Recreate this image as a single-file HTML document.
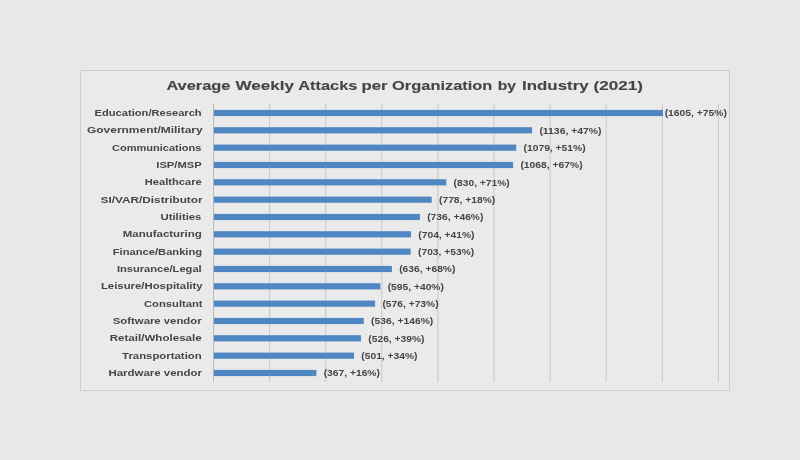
<!DOCTYPE html><html><head><meta charset="utf-8"><title>Average Weekly Attacks per Organization by Industry (2021)</title><style>html,body{margin:0;padding:0;background:#e8e8e8}svg{display:block}text{font-family:"Liberation Sans",sans-serif;font-weight:bold;fill:#454545}</style></head><body>
<svg width="800" height="460" viewBox="0 0 800 460">
<defs><filter id="soft" x="-2%" y="-2%" width="104%" height="104%"><feGaussianBlur stdDeviation="0.3"/></filter></defs>
<rect x="0" y="0" width="800" height="460" fill="#e8e8e8"/>
<rect x="80.5" y="70.5" width="649" height="320" fill="#eaeaea" stroke="#cdcdcd" stroke-width="1"/>
<g filter="url(#soft)">
<line x1="213.5" y1="104" x2="213.5" y2="382" stroke="#bcbcbc" stroke-width="1"/>
<line x1="269.6" y1="104" x2="269.6" y2="382" stroke="#c8c8c8" stroke-width="1"/>
<line x1="325.7" y1="104" x2="325.7" y2="382" stroke="#c8c8c8" stroke-width="1"/>
<line x1="381.8" y1="104" x2="381.8" y2="382" stroke="#c8c8c8" stroke-width="1"/>
<line x1="437.9" y1="104" x2="437.9" y2="382" stroke="#c8c8c8" stroke-width="1"/>
<line x1="494.0" y1="104" x2="494.0" y2="382" stroke="#c8c8c8" stroke-width="1"/>
<line x1="550.1" y1="104" x2="550.1" y2="382" stroke="#c8c8c8" stroke-width="1"/>
<line x1="606.2" y1="104" x2="606.2" y2="382" stroke="#c8c8c8" stroke-width="1"/>
<line x1="662.3" y1="104" x2="662.3" y2="382" stroke="#c8c8c8" stroke-width="1"/>
<line x1="718.4" y1="104" x2="718.4" y2="382" stroke="#c8c8c8" stroke-width="1"/>
<text x="166.4" y="89.8" font-size="12.8" stroke="#454545" stroke-width="0.12" textLength="64.1" lengthAdjust="spacingAndGlyphs">Average</text>
<text x="235.6" y="89.8" font-size="12.8" stroke="#454545" stroke-width="0.12" textLength="58.4" lengthAdjust="spacingAndGlyphs">Weekly</text>
<text x="298.3" y="89.8" font-size="12.8" stroke="#454545" stroke-width="0.12" textLength="59.1" lengthAdjust="spacingAndGlyphs">Attacks</text>
<text x="361.4" y="89.8" font-size="12.8" stroke="#454545" stroke-width="0.12" textLength="26.2" lengthAdjust="spacingAndGlyphs">per</text>
<text x="392.1" y="89.8" font-size="12.8" stroke="#454545" stroke-width="0.12" textLength="100.3" lengthAdjust="spacingAndGlyphs">Organization</text>
<text x="497.7" y="89.8" font-size="12.8" stroke="#454545" stroke-width="0.12" textLength="18.4" lengthAdjust="spacingAndGlyphs">by</text>
<text x="522.1" y="89.8" font-size="12.8" stroke="#454545" stroke-width="0.12" textLength="66.5" lengthAdjust="spacingAndGlyphs">Industry</text>
<text x="593.6" y="89.8" font-size="12.8" stroke="#454545" stroke-width="0.12" textLength="49.3" lengthAdjust="spacingAndGlyphs">(2021)</text>
<rect x="213.9" y="109.90" width="449.1" height="6.2" fill="#4f87c2"/>
<text x="94.5" y="115.90" font-size="8.5" textLength="107.2" lengthAdjust="spacingAndGlyphs">Education/Research</text>
<text x="664.7" y="116.30" font-size="8.5" textLength="62.2" lengthAdjust="spacingAndGlyphs">(1605, +75%)</text>
<rect x="213.9" y="127.23" width="318.2" height="6.2" fill="#4f87c2"/>
<text x="87.0" y="133.23" font-size="8.5" textLength="115.6" lengthAdjust="spacingAndGlyphs">Government/Military</text>
<text x="539.4" y="133.63" font-size="8.5" textLength="62.2" lengthAdjust="spacingAndGlyphs">(1136, +47%)</text>
<rect x="213.9" y="144.57" width="302.3" height="6.2" fill="#4f87c2"/>
<text x="112.0" y="150.57" font-size="8.5" textLength="89.4" lengthAdjust="spacingAndGlyphs">Communications</text>
<text x="523.5" y="150.97" font-size="8.5" textLength="62.2" lengthAdjust="spacingAndGlyphs">(1079, +51%)</text>
<rect x="213.9" y="161.90" width="299.2" height="6.2" fill="#4f87c2"/>
<text x="156.3" y="167.90" font-size="8.5" textLength="45.4" lengthAdjust="spacingAndGlyphs">ISP/MSP</text>
<text x="520.4" y="168.30" font-size="8.5" textLength="62.2" lengthAdjust="spacingAndGlyphs">(1068, +67%)</text>
<rect x="213.9" y="179.23" width="232.4" height="6.2" fill="#4f87c2"/>
<text x="144.7" y="185.23" font-size="8.5" textLength="57.0" lengthAdjust="spacingAndGlyphs">Healthcare</text>
<text x="453.6" y="185.63" font-size="8.5" textLength="56.2" lengthAdjust="spacingAndGlyphs">(830, +71%)</text>
<rect x="213.9" y="196.57" width="217.8" height="6.2" fill="#4f87c2"/>
<text x="100.6" y="202.57" font-size="8.5" textLength="102.0" lengthAdjust="spacingAndGlyphs">SI/VAR/Distributor</text>
<text x="439.0" y="202.97" font-size="8.5" textLength="56.2" lengthAdjust="spacingAndGlyphs">(778, +18%)</text>
<rect x="213.9" y="213.90" width="206.0" height="6.2" fill="#4f87c2"/>
<text x="160.5" y="219.90" font-size="8.5" textLength="40.9" lengthAdjust="spacingAndGlyphs">Utilities</text>
<text x="427.2" y="220.30" font-size="8.5" textLength="56.2" lengthAdjust="spacingAndGlyphs">(736, +46%)</text>
<rect x="213.9" y="231.23" width="197.1" height="6.2" fill="#4f87c2"/>
<text x="122.8" y="237.23" font-size="8.5" textLength="78.9" lengthAdjust="spacingAndGlyphs">Manufacturing</text>
<text x="418.3" y="237.63" font-size="8.5" textLength="56.2" lengthAdjust="spacingAndGlyphs">(704, +41%)</text>
<rect x="213.9" y="248.57" width="196.8" height="6.2" fill="#4f87c2"/>
<text x="112.8" y="254.57" font-size="8.5" textLength="89.3" lengthAdjust="spacingAndGlyphs">Finance/Banking</text>
<text x="418.0" y="254.97" font-size="8.5" textLength="56.2" lengthAdjust="spacingAndGlyphs">(703, +53%)</text>
<rect x="213.9" y="265.90" width="178.0" height="6.2" fill="#4f87c2"/>
<text x="116.9" y="271.90" font-size="8.5" textLength="84.8" lengthAdjust="spacingAndGlyphs">Insurance/Legal</text>
<text x="399.2" y="272.30" font-size="8.5" textLength="56.2" lengthAdjust="spacingAndGlyphs">(636, +68%)</text>
<rect x="213.9" y="283.23" width="166.5" height="6.2" fill="#4f87c2"/>
<text x="100.9" y="289.23" font-size="8.5" textLength="101.7" lengthAdjust="spacingAndGlyphs">Leisure/Hospitality</text>
<text x="387.7" y="289.63" font-size="8.5" textLength="56.2" lengthAdjust="spacingAndGlyphs">(595, +40%)</text>
<rect x="213.9" y="300.57" width="161.2" height="6.2" fill="#4f87c2"/>
<text x="144.0" y="306.57" font-size="8.5" textLength="58.6" lengthAdjust="spacingAndGlyphs">Consultant</text>
<text x="382.4" y="306.97" font-size="8.5" textLength="56.2" lengthAdjust="spacingAndGlyphs">(576, +73%)</text>
<rect x="213.9" y="317.90" width="149.9" height="6.2" fill="#4f87c2"/>
<text x="112.8" y="323.90" font-size="8.5" textLength="88.8" lengthAdjust="spacingAndGlyphs">Software vendor</text>
<text x="371.1" y="324.30" font-size="8.5" textLength="62.2" lengthAdjust="spacingAndGlyphs">(536, +146%)</text>
<rect x="213.9" y="335.23" width="147.1" height="6.2" fill="#4f87c2"/>
<text x="109.7" y="341.23" font-size="8.5" textLength="92.0" lengthAdjust="spacingAndGlyphs">Retail/Wholesale</text>
<text x="368.3" y="341.63" font-size="8.5" textLength="56.2" lengthAdjust="spacingAndGlyphs">(526, +39%)</text>
<rect x="213.9" y="352.57" width="140.1" height="6.2" fill="#4f87c2"/>
<text x="122.1" y="358.57" font-size="8.5" textLength="79.6" lengthAdjust="spacingAndGlyphs">Transportation</text>
<text x="361.3" y="358.97" font-size="8.5" textLength="56.2" lengthAdjust="spacingAndGlyphs">(501, +34%)</text>
<rect x="213.9" y="369.90" width="102.5" height="6.2" fill="#4f87c2"/>
<text x="108.5" y="375.90" font-size="8.5" textLength="93.4" lengthAdjust="spacingAndGlyphs">Hardware vendor</text>
<text x="323.7" y="376.30" font-size="8.5" textLength="56.2" lengthAdjust="spacingAndGlyphs">(367, +16%)</text>
</g>
</svg></body></html>
